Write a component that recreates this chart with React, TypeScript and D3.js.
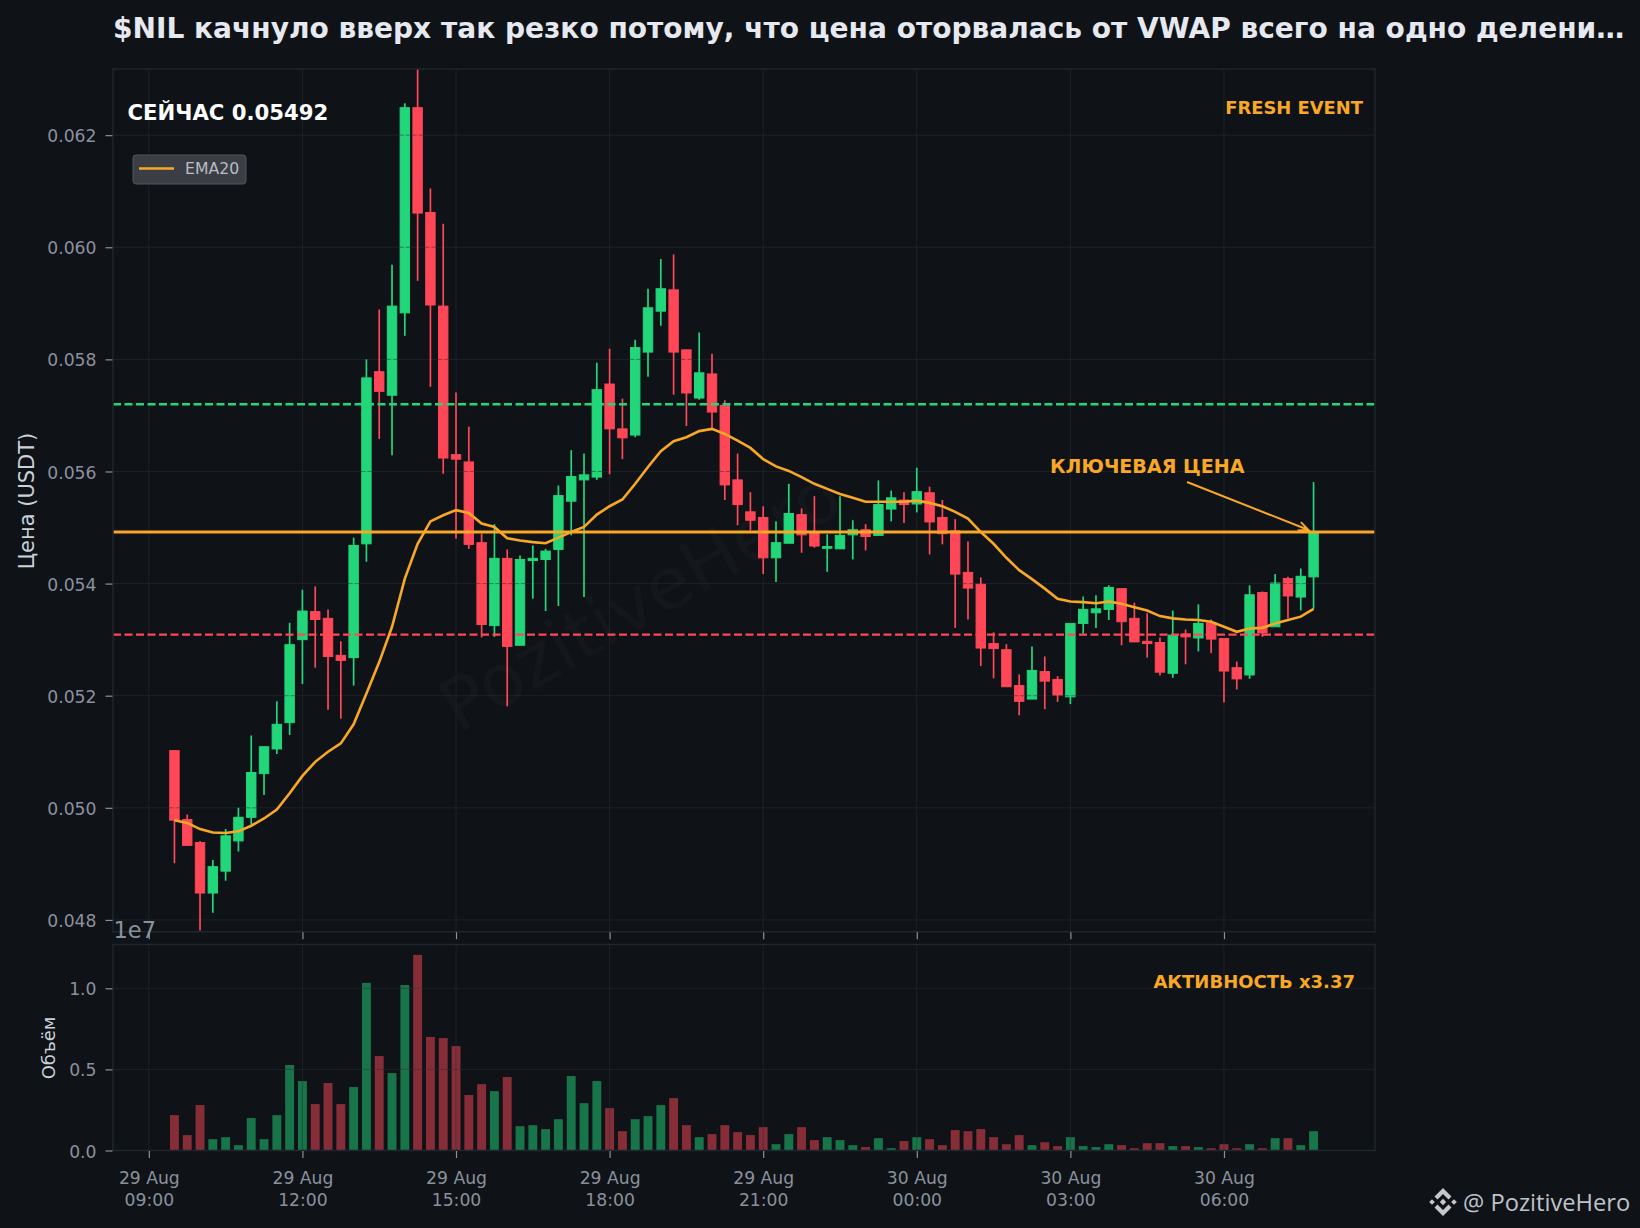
import { useEffect, useRef } from 'react';
import * as d3 from 'd3';

const WIDTH = 1640;
const HEIGHT = 1228;

// 15m candles, first one 29 Aug 09:30
const START = Date.UTC(2025, 7, 29, 9, 30);
const STEP = 15 * 60 * 1000;

const opens = [
  0.05102, 0.04979, 0.04938, 0.04848, 0.04887, 0.04941, 0.04983, 0.05061, 0.05105, 0.05152,
  0.053, 0.0535, 0.05338, 0.05272, 0.05268, 0.05471, 0.05778, 0.05736, 0.05883, 0.06249,
  0.06062, 0.05895, 0.0563, 0.05617, 0.05473, 0.05325, 0.05445, 0.0529, 0.05441, 0.05443,
  0.05461, 0.05547, 0.05585, 0.0559, 0.05756, 0.05676, 0.05665, 0.05813, 0.05886, 0.05924,
  0.05817, 0.05731, 0.05774, 0.05718, 0.05585, 0.05528, 0.05518, 0.05446, 0.05472, 0.05523,
  0.05492, 0.05463, 0.05462, 0.05487, 0.05496, 0.05486, 0.05533, 0.05549, 0.05542, 0.05562,
  0.05518, 0.05494, 0.0542, 0.05399, 0.05293, 0.05282, 0.05218, 0.05194, 0.05243, 0.05229,
  0.05198, 0.05329, 0.05348, 0.05354, 0.05391, 0.05338, 0.05297, 0.05295, 0.0524, 0.0531,
  0.05303, 0.0533, 0.05302, 0.0525, 0.05237, 0.05384, 0.05323, 0.05409, 0.05376, 0.05412,
];
const highs = [
  0.05102, 0.04988, 0.04941, 0.04907, 0.04962, 0.05, 0.05129, 0.05109, 0.0519, 0.0533,
  0.05389, 0.05395, 0.05354, 0.05297, 0.05482, 0.058, 0.05889, 0.05969, 0.06257, 0.0632,
  0.06105, 0.06042, 0.05741, 0.0568, 0.05489, 0.05506, 0.05461, 0.0545, 0.05468, 0.05462,
  0.05575, 0.05638, 0.05632, 0.05794, 0.05819, 0.0573, 0.05835, 0.05926, 0.05979, 0.05987,
  0.05817, 0.05848, 0.0581, 0.05727, 0.05632, 0.05563, 0.05538, 0.05511, 0.05578, 0.05534,
  0.05556, 0.05488, 0.05556, 0.05513, 0.05506, 0.05584, 0.05566, 0.05563, 0.05607, 0.05573,
  0.05549, 0.05515, 0.05475, 0.05411, 0.05313, 0.05292, 0.05238, 0.05288, 0.0527, 0.05235,
  0.05329, 0.05377, 0.05379, 0.05397, 0.05391, 0.05366, 0.05347, 0.05304, 0.05352, 0.05318,
  0.05363, 0.05336, 0.05302, 0.05261, 0.05397, 0.05386, 0.05417, 0.05412, 0.05427, 0.05581,
];
const lows = [
  0.04901, 0.04933, 0.04781, 0.04813, 0.0487, 0.04922, 0.0497, 0.05023, 0.05096, 0.0513,
  0.05221, 0.0525, 0.05175, 0.05159, 0.05218, 0.05439, 0.05658, 0.05629, 0.05842, 0.0594,
  0.05751, 0.05596, 0.0548, 0.05462, 0.05304, 0.05305, 0.05181, 0.0529, 0.05373, 0.05351,
  0.0536, 0.05486, 0.05376, 0.05585, 0.05595, 0.05622, 0.05661, 0.05769, 0.0586, 0.05737,
  0.05681, 0.05728, 0.05676, 0.05549, 0.05504, 0.05495, 0.05417, 0.05403, 0.05472, 0.05455,
  0.05464, 0.05421, 0.05462, 0.05443, 0.05459, 0.05486, 0.05511, 0.05508, 0.05527, 0.05452,
  0.0547, 0.05321, 0.05336, 0.05253, 0.05231, 0.05216, 0.05165, 0.05194, 0.05176, 0.05189,
  0.05185, 0.05311, 0.05321, 0.05335, 0.0529, 0.05296, 0.05268, 0.05236, 0.05232, 0.05256,
  0.05279, 0.05276, 0.05188, 0.05211, 0.0523, 0.05305, 0.05323, 0.05338, 0.05352, 0.05355,
];
const closes = [
  0.04978, 0.04933, 0.04848, 0.04895, 0.0495, 0.04983, 0.05063, 0.05109, 0.05149, 0.05291,
  0.05351, 0.05336, 0.0527, 0.05263, 0.05468, 0.05767, 0.05743, 0.05895, 0.06249, 0.06061,
  0.05897, 0.05624, 0.05622, 0.0547, 0.05327, 0.05445, 0.05288, 0.05443, 0.05445, 0.05458,
  0.05557, 0.05591, 0.05594, 0.05746, 0.05676, 0.0566, 0.05821, 0.05892, 0.05926, 0.05813,
  0.0574, 0.05776, 0.05706, 0.05576, 0.05541, 0.05513, 0.05446, 0.05473, 0.05525, 0.05487,
  0.05467, 0.05466, 0.05486, 0.05496, 0.05484, 0.05541, 0.05553, 0.05541, 0.05564, 0.0551,
  0.05489, 0.05417, 0.05392, 0.05285, 0.05284, 0.05216, 0.0519, 0.05245, 0.05226, 0.05201,
  0.05329, 0.05354, 0.05355, 0.05393, 0.05332, 0.05296, 0.05293, 0.05242, 0.05308, 0.05305,
  0.05329, 0.05301, 0.05244, 0.0523, 0.0538, 0.05312, 0.05401, 0.05378, 0.05413, 0.05492,
];
const ema20 = [
  0.04978, 0.04973, 0.04962, 0.04956, 0.04955, 0.04958, 0.04968, 0.04981, 0.04997, 0.05026,
  0.05057, 0.05082, 0.051, 0.05115, 0.05149, 0.05204, 0.0526, 0.05323, 0.05409, 0.05471,
  0.05511, 0.05522, 0.05531, 0.05526, 0.05507, 0.05501, 0.05481, 0.05477, 0.05474, 0.05472,
  0.05482, 0.05492, 0.05501, 0.05523, 0.05538, 0.0555, 0.05578, 0.05608, 0.05636, 0.05654,
  0.05661, 0.05672, 0.05676, 0.05667, 0.05655, 0.05642, 0.05622, 0.05609, 0.05601, 0.0559,
  0.05578, 0.05569, 0.0556, 0.05553, 0.05546, 0.05546, 0.05546, 0.05546, 0.05548, 0.05544,
  0.05538, 0.05528, 0.05516, 0.05492, 0.05471, 0.05446, 0.05424, 0.05408, 0.05391, 0.05373,
  0.05368, 0.05367, 0.05365, 0.05368, 0.05364, 0.05358, 0.05352, 0.05342, 0.05338, 0.05336,
  0.05335, 0.05332, 0.05323, 0.05314, 0.0532, 0.05321, 0.05329, 0.05335, 0.05341, 0.05355,
];
// in units of 1e7
const volumes = [
  0.218, 0.095, 0.28, 0.07, 0.082, 0.033, 0.2, 0.07, 0.218, 0.527,
  0.428, 0.286, 0.416, 0.286, 0.391, 1.033, 0.582, 0.477, 1.02, 1.206,
  0.7, 0.693, 0.644, 0.342, 0.409, 0.366, 0.453, 0.15, 0.156, 0.132,
  0.193, 0.459, 0.292, 0.428, 0.261, 0.119, 0.193, 0.212, 0.28, 0.323,
  0.156, 0.082, 0.101, 0.156, 0.113, 0.095, 0.144, 0.039, 0.101, 0.144,
  0.064, 0.082, 0.064, 0.033, 0.021, 0.076, 0.014, 0.058, 0.082, 0.07,
  0.033, 0.126, 0.119, 0.132, 0.082, 0.039, 0.095, 0.033, 0.051, 0.027,
  0.082, 0.027, 0.021, 0.039, 0.033, 0.014, 0.045, 0.045, 0.027, 0.027,
  0.021, 0.014, 0.039, 0.014, 0.039, 0.014, 0.076, 0.076, 0.033, 0.119,
];

const priceTicks = [0.048, 0.05, 0.052, 0.054, 0.056, 0.058, 0.06, 0.062];
const volumeTicks = [0, 0.5, 1];
const timeTicks = [
  Date.UTC(2025, 7, 29, 9), Date.UTC(2025, 7, 29, 12), Date.UTC(2025, 7, 29, 15), Date.UTC(2025, 7, 29, 18),
  Date.UTC(2025, 7, 29, 21), Date.UTC(2025, 7, 30, 0), Date.UTC(2025, 7, 30, 3), Date.UTC(2025, 7, 30, 6),
];

const KEY_PRICE = 0.05492;
const RESISTANCE = 0.0572;
const SUPPORT = 0.05309;

const BG = '#0f1318';
const UP = '#22d67a';
const DOWN = '#ff4757';
const ORANGE = '#f9a825';
const GRID = '#2a2f37';
const FRAME = '#1e262e';
const MUTED = '#8b919c';
const FONT = '"DejaVu Sans", sans-serif';

const TITLE = '$NIL качнуло вверх так резко потому, что цена оторвалась от VWAP всего на одно делени…';

export default function App() {
  const svgRef = useRef<SVGSVGElement | null>(null);

  useEffect(() => {
    if (!svgRef.current) return;
    const svg = d3.select(svgRef.current);
    svg.selectAll('*').remove();

    const left = 113, right = 1375;
    const priceTop = 69, priceBottom = 931.7;
    const volTop = 944.5, volBottom = 1150.5;

    const x = d3.scaleUtc()
      .domain([Date.UTC(2025, 7, 29, 8, 18), Date.UTC(2025, 7, 30, 8, 57)])
      .range([left, right]);
    const y = d3.scaleLinear().domain([0.04779, 0.06318]).range([priceBottom, priceTop]);
    const yVol = d3.scaleLinear().domain([0, 1.27]).range([volBottom, volTop]);

    const time = (i: number) => START + i * STEP;
    const bodyW = 9.4;
    const volW = 8.9;

    svg.append('rect').attr('width', WIDTH).attr('height', HEIGHT).attr('fill', BG);

    const defs = svg.append('defs');
    defs.append('clipPath').attr('id', 'price-clip').append('rect')
      .attr('x', left).attr('y', priceTop).attr('width', right - left).attr('height', priceBottom - priceTop);

    // title
    svg.append('text').attr('x', 113).attr('y', 37.5)
      .attr('font-family', FONT).attr('font-size', 28.06).attr('font-weight', 700)
      .attr('fill', '#e6e9ef').text(TITLE);

    // price panel
    const price = svg.append('g').attr('clip-path', 'url(#price-clip)');

    price.append('text')
      .attr('transform', 'translate(640,600) rotate(-30)')
      .attr('text-anchor', 'middle').attr('dy', '0.35em')
      .attr('font-family', FONT).attr('font-size', 72)
      .attr('fill', '#ffffff').attr('fill-opacity', 0.025)
      .text('PozitiveHero');

    const candles = price.append('g');
    d3.range(opens.length).forEach(i => {
      const c = closes[i] >= opens[i] ? UP : DOWN;
      candles.append('rect')
        .attr('x', x(time(i)) - bodyW / 2)
        .attr('y', y(Math.max(opens[i], closes[i])))
        .attr('width', bodyW)
        .attr('height', Math.max(Math.abs(y(opens[i]) - y(closes[i])), 1))
        .attr('fill', c).attr('stroke', c).attr('stroke-width', 1);
    });

    const drawGrid = (g: d3.Selection<SVGGElement, unknown, null, undefined>, ys: number[], top: number, bottom: number) => {
      timeTicks.forEach(t => {
        g.append('line').attr('x1', x(t)).attr('x2', x(t)).attr('y1', top).attr('y2', bottom)
          .attr('stroke', GRID).attr('stroke-opacity', 0.5).attr('stroke-width', 1);
      });
      ys.forEach(v => {
        g.append('line').attr('x1', left).attr('x2', right).attr('y1', v).attr('y2', v)
          .attr('stroke', GRID).attr('stroke-opacity', 0.5).attr('stroke-width', 1);
      });
    };
    drawGrid(price.append('g'), priceTicks.map(v => y(v)), priceTop, priceBottom);

    const wicks = price.append('g');
    d3.range(opens.length).forEach(i => {
      wicks.append('line')
        .attr('x1', x(time(i))).attr('x2', x(time(i)))
        .attr('y1', y(highs[i])).attr('y2', y(lows[i]))
        .attr('stroke', closes[i] >= opens[i] ? UP : DOWN).attr('stroke-width', 1.7);
    });

    price.append('line').attr('x1', left).attr('x2', right).attr('y1', y(RESISTANCE)).attr('y2', y(RESISTANCE))
      .attr('stroke', UP).attr('stroke-width', 2.4).attr('stroke-dasharray', '8 3.5');
    price.append('line').attr('x1', left).attr('x2', right).attr('y1', y(SUPPORT)).attr('y2', y(SUPPORT))
      .attr('stroke', DOWN).attr('stroke-width', 2.4).attr('stroke-dasharray', '8 3.5');
    price.append('line').attr('x1', left).attr('x2', right).attr('y1', y(KEY_PRICE)).attr('y2', y(KEY_PRICE))
      .attr('stroke', ORANGE).attr('stroke-width', 3.2);

    const emaLine = d3.line<number>().x((_, i) => x(time(i))).y(d => y(d));
    price.append('path').attr('d', emaLine(ema20)).attr('fill', 'none')
      .attr('stroke', ORANGE).attr('stroke-width', 2.6);

    // volume panel
    const vol = svg.append('g');
    volumes.forEach((v, i) => {
      vol.append('rect')
        .attr('x', x(time(i)) - volW / 2)
        .attr('y', yVol(v))
        .attr('width', volW)
        .attr('height', yVol(0) - yVol(v))
        .attr('fill', closes[i] >= opens[i] ? UP : DOWN)
        .attr('fill-opacity', 0.5);
    });
    drawGrid(vol.append('g'), volumeTicks.map(v => yVol(v)), volTop, volBottom);

    // frames
    [[priceTop, priceBottom], [volTop, volBottom]].forEach(([t, b]) => {
      svg.append('rect').attr('x', left).attr('y', t).attr('width', right - left).attr('height', b - t)
        .attr('fill', 'none').attr('stroke', FRAME).attr('stroke-width', 1.5);
    });

    // axes
    const styleAxis = (g: d3.Selection<SVGGElement, unknown, null, undefined>) => {
      g.select('.domain').remove();
      g.selectAll('.tick line').attr('stroke', MUTED).attr('stroke-width', 1.2);
      g.selectAll('.tick text')
        .attr('fill', MUTED).attr('font-family', FONT).attr('font-size', 17.2).attr('dy', '0.38em');
    };

    svg.append('g').attr('transform', `translate(${left - 0.5},0)`)
      .call(d3.axisLeft(y).tickValues(priceTicks).tickSize(7).tickPadding(9).tickFormat(d => d3.format('.3f')(+d)))
      .call(styleAxis);
    svg.append('g').attr('transform', `translate(${left - 0.5},0)`)
      .call(d3.axisLeft(yVol).tickValues(volumeTicks).tickSize(7).tickPadding(9).tickFormat(d => d3.format('.1f')(+d)))
      .call(styleAxis);
    svg.append('g').attr('transform', `translate(0,${priceBottom + 0.5})`)
      .call(d3.axisBottom(x).tickValues(timeTicks as unknown as Date[]).tickSize(7).tickFormat(() => ''))
      .call(styleAxis);

    const dayFmt = d3.utcFormat('%d %b');
    const hourFmt = d3.utcFormat('%H:%M');
    const bottomAxis = svg.append('g').attr('transform', `translate(0,${volBottom + 0.5})`)
      .call(d3.axisBottom(x).tickValues(timeTicks as unknown as Date[]).tickSize(7).tickFormat(() => ''))
      .call(styleAxis);
    bottomAxis.selectAll<SVGTextElement, Date>('.tick text').each(function (d) {
      const t = d3.select(this).text(null).attr('y', 0).attr('dy', null);
      t.append('tspan').attr('x', 0).attr('y', 33).text(dayFmt(new Date(d)));
      t.append('tspan').attr('x', 0).attr('y', 55).text(hourFmt(new Date(d)));
    });

    // offset text of the volume axis
    svg.append('text').attr('x', 113.5).attr('y', 938)
      .attr('font-family', FONT).attr('font-size', 22.5).attr('fill', MUTED).text('1e7');

    // axis labels
    svg.append('text').attr('transform', 'translate(34,501) rotate(-90)').attr('text-anchor', 'middle')
      .attr('font-family', FONT).attr('font-size', 21).attr('fill', '#c9d1d9').text('Цена (USDT)');
    svg.append('text').attr('transform', 'translate(55,1048) rotate(-90)').attr('text-anchor', 'middle')
      .attr('font-family', FONT).attr('font-size', 18).attr('fill', '#c9d1d9').text('Объём');

    // labels
    svg.append('text').attr('x', 127.5).attr('y', 120)
      .attr('font-family', FONT).attr('font-size', 21.2).attr('font-weight', 700).attr('fill', '#ffffff')
      .text('СЕЙЧАС 0.05492');
    svg.append('text').attr('x', 1363).attr('y', 113.5).attr('text-anchor', 'end')
      .attr('font-family', FONT).attr('font-size', 17.9).attr('font-weight', 700).attr('fill', ORANGE)
      .text('FRESH EVENT');
    svg.append('text').attr('x', 1050).attr('y', 473)
      .attr('font-family', FONT).attr('font-size', 19.1).attr('font-weight', 700).attr('fill', ORANGE)
      .text('КЛЮЧЕВАЯ ЦЕНА');
    svg.append('text').attr('x', 1355).attr('y', 988).attr('text-anchor', 'end')
      .attr('font-family', FONT).attr('font-size', 18).attr('font-weight', 700).attr('fill', ORANGE)
      .text('АКТИВНОСТЬ x3.37');

    // arrow to the key price
    const tipX = x(time(opens.length - 1)) - 5, tipY = y(KEY_PRICE) - 2;
    const tailX = 1187, tailY = 482;
    const ang = Math.atan2(tipY - tailY, tipX - tailX);
    const head = 11;
    const arrow = d3.path();
    arrow.moveTo(tailX, tailY);
    arrow.lineTo(tipX, tipY);
    arrow.moveTo(tipX - head * Math.cos(ang - 0.42), tipY - head * Math.sin(ang - 0.42));
    arrow.lineTo(tipX, tipY);
    arrow.lineTo(tipX - head * Math.cos(ang + 0.42), tipY - head * Math.sin(ang + 0.42));
    svg.append('path').attr('d', arrow.toString()).attr('fill', 'none')
      .attr('stroke', ORANGE).attr('stroke-width', 2);

    // legend
    const legend = svg.append('g');
    legend.append('rect').attr('x', 133).attr('y', 155).attr('width', 113).attr('height', 29).attr('rx', 3)
      .attr('fill', '#3b3e45').attr('stroke', '#50545c').attr('stroke-width', 1);
    legend.append('line').attr('x1', 139).attr('x2', 174).attr('y1', 168.5).attr('y2', 168.5)
      .attr('stroke', ORANGE).attr('stroke-width', 2.6);
    legend.append('text').attr('x', 185).attr('y', 174)
      .attr('font-family', FONT).attr('font-size', 15.7).attr('fill', '#b9bdc5').text('EMA20');

    // signature with the diamond mark
    const mark = svg.append('g').attr('transform', 'translate(1443,1202)').attr('fill', '#c4c7cc');
    const diamond = (cx: number, cy: number, r: number) =>
      mark.append('path').attr('d', `M${cx},${cy - r}L${cx + r},${cy}L${cx},${cy + r}L${cx - r},${cy}Z`);
    diamond(0, 0, 3.2);
    diamond(-11, 0, 2.8);
    diamond(11, 0, 2.8);
    mark.append('path').attr('d', 'M0,-14L8.5,-5.5L5.5,-2.5L0,-8L-5.5,-2.5L-8.5,-5.5Z');
    mark.append('path').attr('d', 'M0,14L8.5,5.5L5.5,2.5L0,8L-5.5,2.5L-8.5,5.5Z');
    svg.append('text').attr('x', 1463).attr('y', 1211)
      .attr('font-family', '"Open Sans", sans-serif').attr('font-size', 23.7).attr('fill', '#bfc2c8')
      .text('@ PozitiveHero');
  }, []);

  return (
    <svg
      ref={svgRef}
      width={WIDTH}
      height={HEIGHT}
      style={{ position: 'absolute', top: 0, left: 0, display: 'block' }}
    />
  );
}
